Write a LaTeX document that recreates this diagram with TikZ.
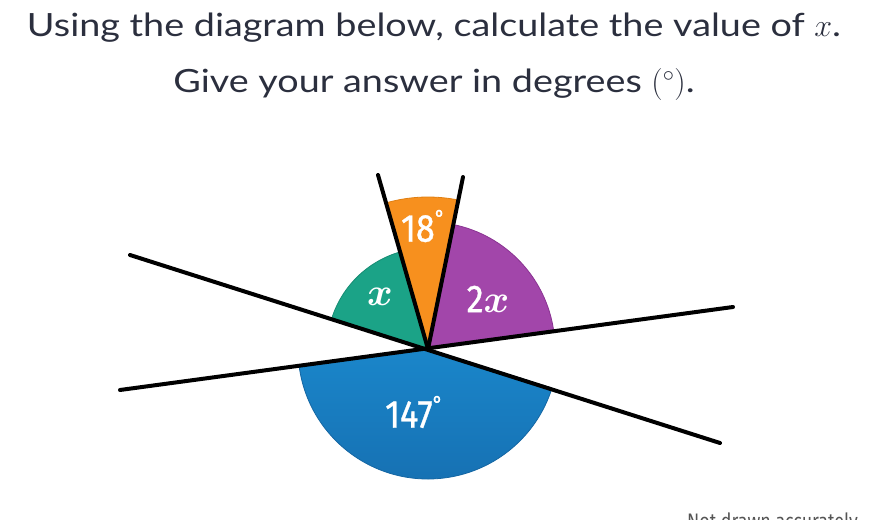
\documentclass[tikz,border=0pt]{standalone}
\usepackage{fix-cm}
\usepackage{fontspec}
\setmainfont[FakeStretch=1.18]{Lato}
\newfontfamily\lblfont[FakeStretch=0.88,FakeBold=0.8]{Fira Sans}
\newfontfamily\notefont[FakeStretch=0.85]{Fira Sans}
\definecolor{titlecol}{HTML}{2B2F3E}
\definecolor{orangec}{HTML}{F7901E}
\definecolor{greenc}{HTML}{1BA387}
\definecolor{purplec}{HTML}{A246AA}
\definecolor{purpleedge}{HTML}{8A3392}
\definecolor{greenedge}{HTML}{168C73}
\definecolor{orangeedge}{HTML}{E07F12}
\definecolor{bluetop}{HTML}{1A86CA}
\definecolor{bluebot}{HTML}{1670B2}
\definecolor{blueedge}{HTML}{1466A3}
\definecolor{notecol}{HTML}{555555}
\newcommand{\degsym}{\raisebox{0.42em}{\fontsize{22}{22}\selectfont\char"00B0}}
\newcommand{\boldx}{\mbox{\boldmath$x$}}
\begin{document}
\begin{tikzpicture}[x=1pt,y=1pt,
  titletext/.style={inner sep=0pt,anchor=base,text=titlecol,font=\fontsize{32}{38}\selectfont},
  anglabel/.style={inner sep=0pt,text=white,font=\lblfont\fontsize{39}{44}\selectfont},
  bigline/.style={line width=4pt,black,line cap=round},
  sector/.style={line width=0.8pt}]
\useasboundingbox (0,0) rectangle (890,519);
% title
\node[titletext] (t1) at (434,482) {Using the diagram below, calculate the value of $x$.};
\node[titletext] (t2) at (434,426) {Give your answer in degrees $(^\circ)$.};
% geometry
\coordinate (C) at (428,170);
\coordinate (L1a) at (130,264);
\coordinate (L1b) at (720,76);
\coordinate (L2a) at (120,129);
\coordinate (L2b) at (733,212);
\coordinate (R3) at (378,344);
\coordinate (R4) at (463,342);
% sectors
\fill[orangec,draw=orangeedge,sector] (C) -- ++(78.5:152) arc[start angle=78.5,end angle=106,radius=152] -- cycle;
\fill[greenc,draw=greenedge,sector] (C) -- ++(106:101) arc[start angle=106,end angle=162.5,radius=101] -- cycle;
\fill[purplec,draw=purpleedge,sector] (C) -- ++(7.8:127) arc[start angle=7.8,end angle=78.5,radius=127] -- cycle;
\shade[top color=bluetop,bottom color=bluebot,draw=blueedge,sector] (C) -- ++(187.8:130) arc[start angle=187.8,end angle=342.5,radius=130] -- cycle;
% lines
\draw[bigline] (L1a) -- (L1b);
\draw[bigline] (L2a) -- (L2b);
\draw[bigline] (C) -- (R3);
\draw[bigline] (C) -- (R4);
% labels
\node[anglabel] (a18) at (423,293) {18\degsym};
\node[anglabel] (ax) at (380,222) {\boldx};
\node[anglabel] (a2x) at (488,220) {2\boldx};
\node[anglabel] (a147) at (414,107) {147\degsym};
\node[inner sep=0pt,anchor=base west,text=notecol,font=\notefont\fontsize{21}{24}\selectfont] (note) at (687,-9) {Not drawn accurately};
\end{tikzpicture}
\end{document}
